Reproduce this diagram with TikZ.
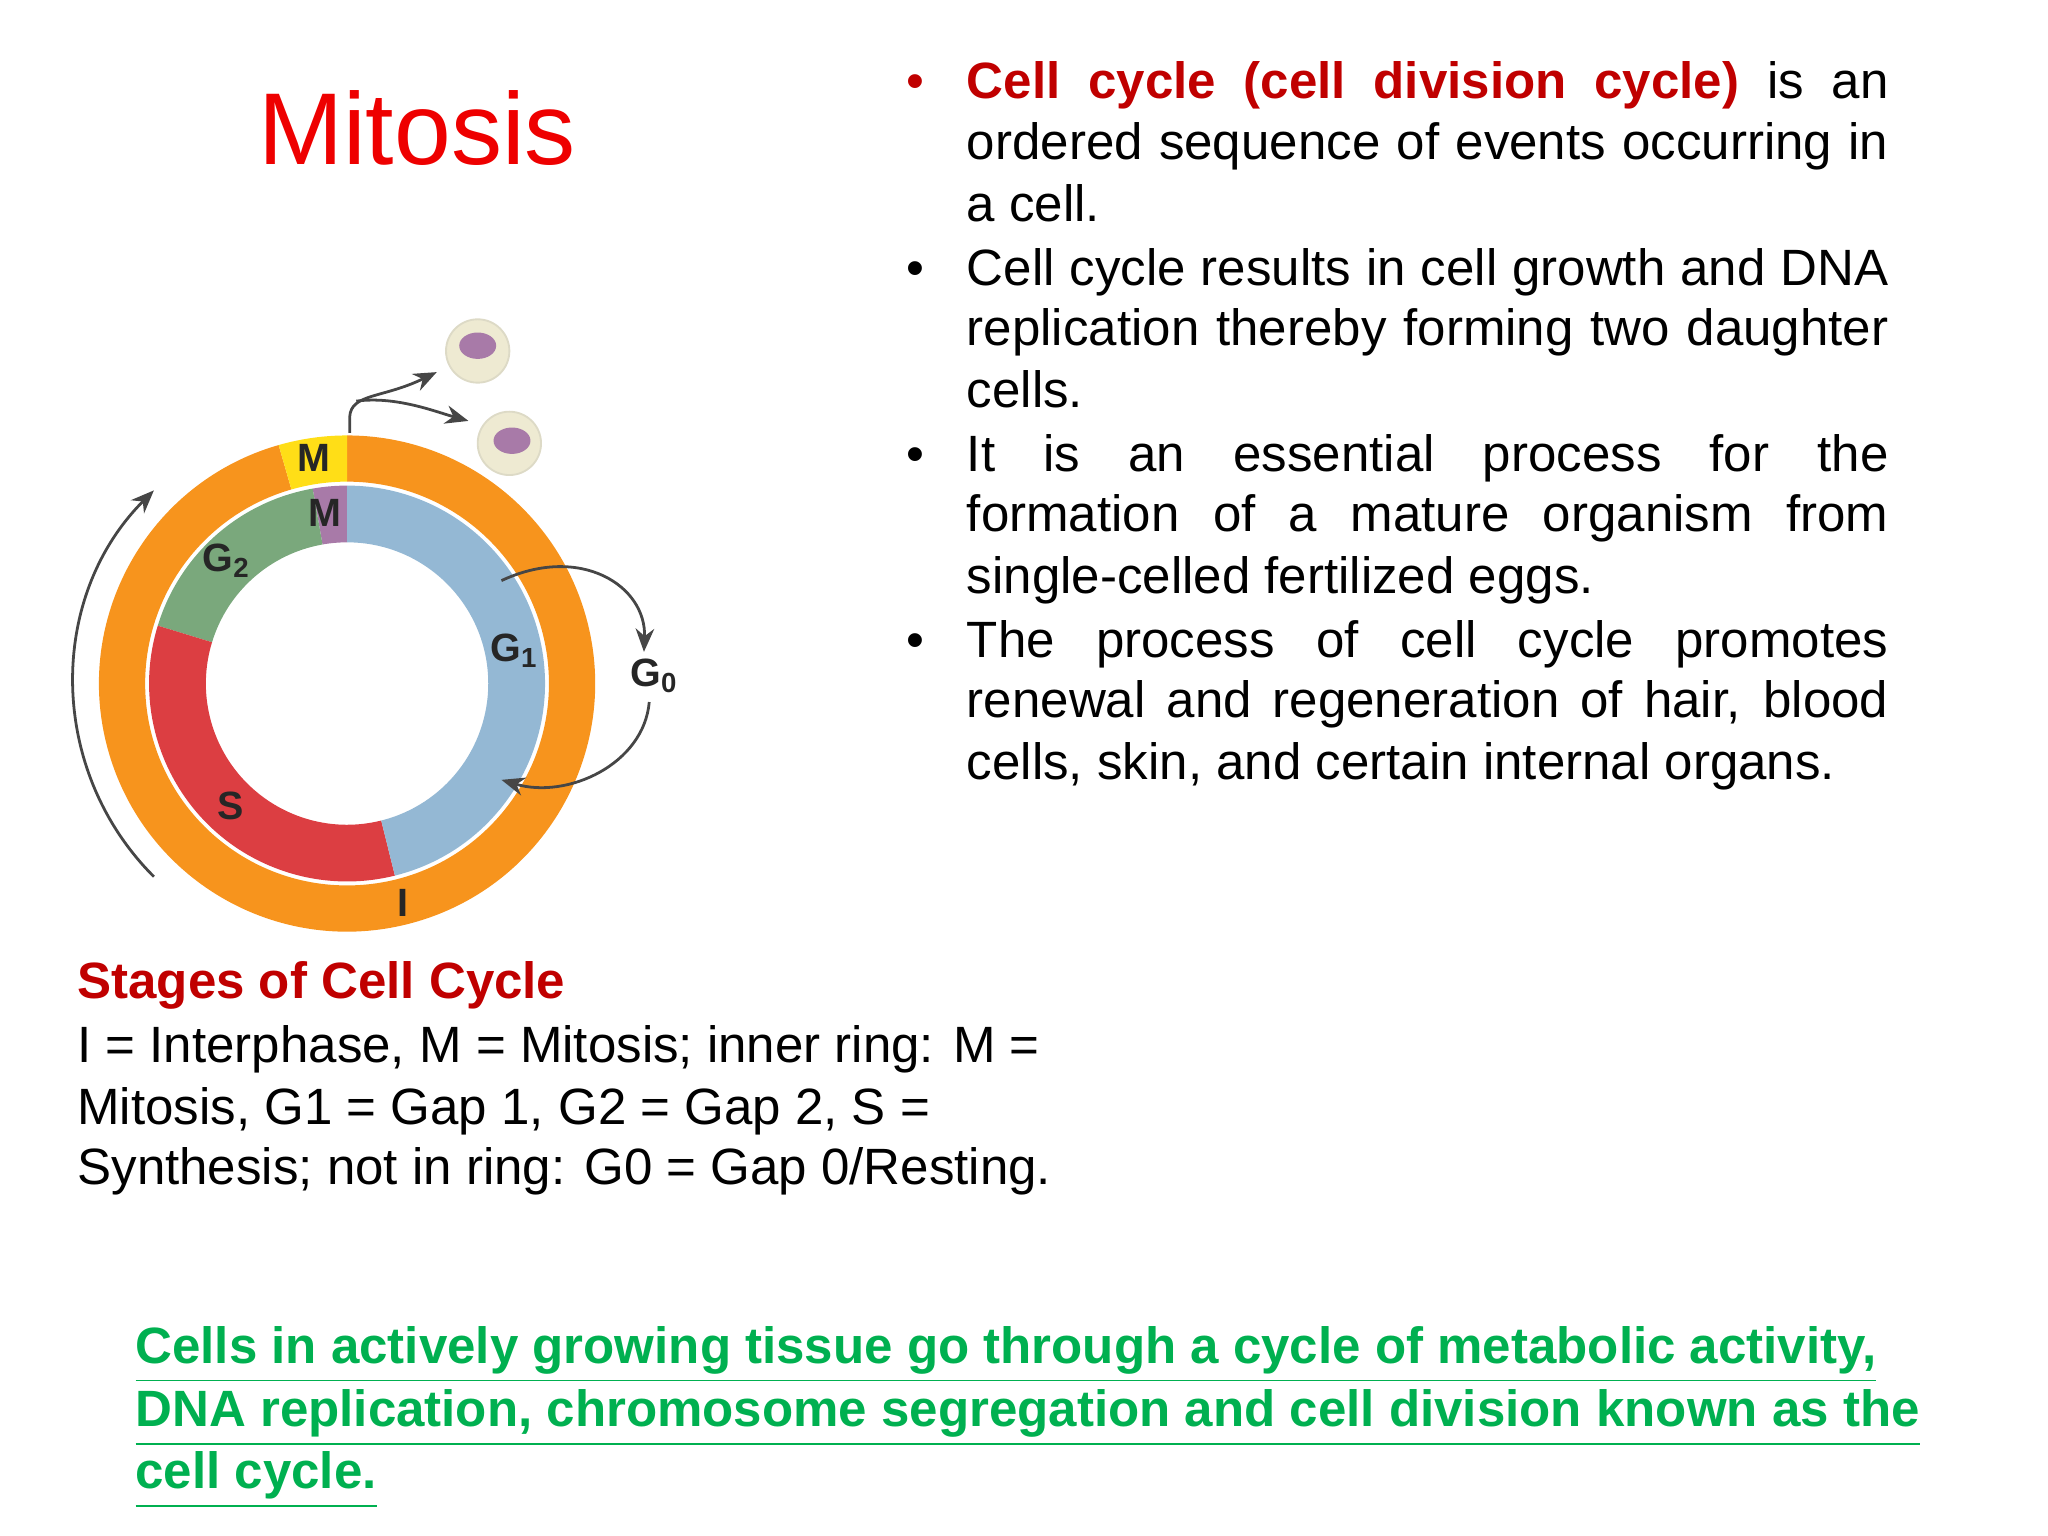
\documentclass[tikz,border=0pt]{standalone}
\usepackage{fontspec}
\setmainfont{Liberation Sans}
\usetikzlibrary{arrows.meta,calc}
\definecolor{ttl}{RGB}{238,0,0}
\definecolor{dred}{RGB}{192,0,0}
\definecolor{grn}{RGB}{0,176,80}
\definecolor{orng}{RGB}{247,148,29}
\definecolor{blu}{RGB}{148,184,212}
\definecolor{rd}{RGB}{220,62,66}
\definecolor{gr}{RGB}{122,168,124}
\definecolor{pu}{RGB}{168,122,168}
\definecolor{ye}{RGB}{255,222,23}
\definecolor{cellc}{RGB}{238,234,210}
\definecolor{arr}{RGB}{70,70,70}
\newcommand{\jl}[1]{\makebox[6.98cm][s]{#1}}
\newcommand{\sect}[5]{\fill[#1] (263,646) ++(#2:#4) arc[start angle=#2,end angle=#3,radius=#4] -- ($(263,646)+(#3:#5)$) arc[start angle=#3,end angle=#2,radius=#5] -- cycle;}
\begin{document}
\begin{tikzpicture}[x=0.01cm,y=0.01cm,
  body/.style={anchor=base west,inner sep=0,font=\fontsize{11}{13}\selectfont},
  lbl/.style={font=\fontsize{8.5}{9}\selectfont\bfseries,text=black!85},
  cell/.style={circle,fill=cellc,draw=cellc!85!gray,minimum size=0.48cm,inner sep=0},
  carrow/.style={draw=arr,line width=0.6pt,-{Stealth[length=5pt,width=4pt]}}]
\useasboundingbox (0,0) rectangle (1552,1164);
% rings
\sect{orng}{106}{450}{188}{153}
\sect{ye}{90}{106}{188}{153}
\sect{pu}{90}{100}{150}{107}
\sect{gr}{100}{163}{150}{107}
\sect{rd}{163}{284}{150}{107}
\sect{blu}{-76}{90}{150}{107}
\node[lbl] (mo) at (238,817) {M};
\node[lbl] (mi) at (246,775) {M};
\node[lbl] (g2) at (172,739) {G\textsubscript{2}};
\node[lbl] (g1) at (390,671) {G\textsubscript{1}};
\node[lbl] (g0) at (496,652) {G\textsubscript{0}};
\node[lbl] (s) at (175,553) {S};
\node[lbl] (i) at (305,480) {I};
% cells
\node[cell] (c1) at (362,898) {};
\node[cell] (c2) at (386,828) {};
\fill[pu] (362,902) ellipse (14 and 10);
\fill[pu] (388,830) ellipse (14 and 10);
\coordinate (ms) at (265,836);
\draw[carrow] (ms) -- (265,848) .. controls (266,866) and (290,862) .. (331,882);
\draw[carrow] (270,860) .. controls (300,864) and (330,852) .. (355,845);
% G0 loop
\draw[carrow] (380,724) .. controls (440,752) and (490,720) .. (488,670);
\draw[carrow] (492,632) .. controls (488,585) and (430,558) .. (380,573);
% left arc
\draw[carrow] (263,646) ++(225:207) arc[start angle=225,end angle=135,radius=207];
% title
\node[anchor=base,inner sep=0,text=ttl,font=\fontsize{22}{26}\selectfont] (title) at (316,1039) {Mitosis};
% bullets
\node[body,text=dred] (b1) at (686,1089) {•};
\node[body] (b2) at (686,948) {•};
\node[body] (b3) at (686,807) {•};
\node[body] (b4) at (686,666) {•};
\node[body] (l1) at (732,1089) {\jl{\textcolor{dred}{\bfseries Cell cycle (cell division cycle)} is an}};
\node[body] (l2) at (732,1043) {\jl{ordered sequence of events occurring in}};
\node[body] (l3) at (732,996) {a cell.};
\node[body] (l4) at (732,948) {\jl{Cell cycle results in cell growth and DNA}};
\node[body] (l5) at (732,902) {\jl{replication thereby forming two daughter}};
\node[body] (l6) at (732,855) {cells.};
\node[body] (l7) at (732,807) {\jl{It is an essential process for the}};
\node[body] (l8) at (732,761) {\jl{formation of a mature organism from}};
\node[body] (l9) at (732,714) {single-celled fertilized eggs.};
\node[body] (l10) at (732,666) {\jl{The process of cell cycle promotes}};
\node[body] (l11) at (732,620) {\jl{renewal and regeneration of hair, blood}};
\node[body] (l12) at (732,573) {cells, skin, and certain internal organs.};
% stages
\node[body,text=dred,font=\fontsize{11}{13}\selectfont\bfseries] (st) at (58,407) {Stages of Cell Cycle};
\node[body] (s1) at (58,359) {I = Interphase, M = Mitosis; inner ring: M =};
\node[body] (s2) at (58,312) {Mitosis, G1 = Gap 1, G2 = Gap 2, S =};
\node[body] (s3) at (58,266) {Synthesis; not in ring: G0 = Gap 0/Resting.};
% green
\node[body,text=grn,font=\fontsize{11}{13}\selectfont\bfseries] (gl1) at (102,131) {\underline{Cells in actively growing tissue go through a cycle of metabolic activity,}};
\node[body,text=grn,font=\fontsize{11}{13}\selectfont\bfseries] (gl2) at (102,83) {\underline{DNA replication, chromosome segregation and cell division known as the}};
\node[body,text=grn,font=\fontsize{11}{13}\selectfont\bfseries] (gl3) at (102,36) {\underline{cell cycle.}};
\end{tikzpicture}
\end{document}
